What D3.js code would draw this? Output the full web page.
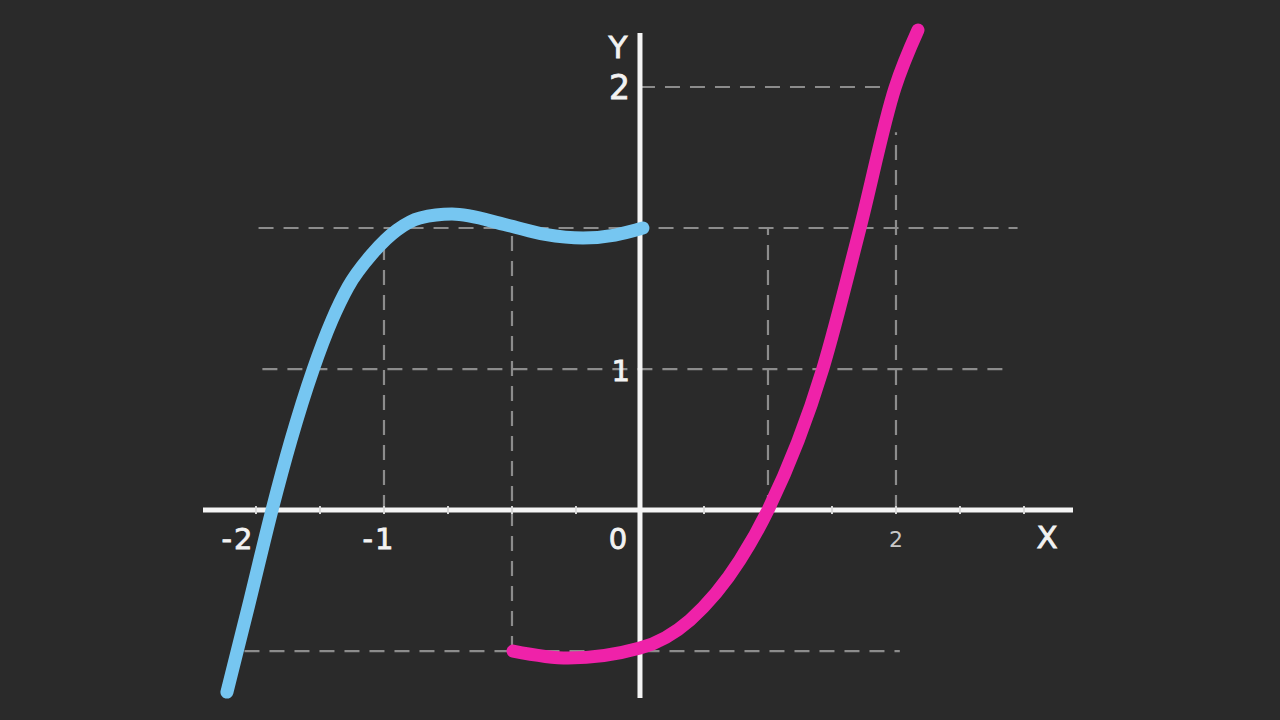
<!DOCTYPE html>
<html>
<head>
<meta charset="utf-8">
<script src="https://cdn.jsdelivr.net/npm/d3@7"></script>
<style>
  html, body { margin: 0; padding: 0; background: #2a2a2a; overflow: hidden; }
  svg { display: block; }
</style>
</head>
<body>
<svg></svg>
<script>
// grid units: one x unit = one dashed column, one y unit = one dashed row
const blueX = [-3.227, -3.047, -2.875, -2.727, -2.555, -2.406, -2.281, -2.086, -1.898, -1.719, -1.469, -1.039, -0.742, -0.445, -0.195, 0.023];
const blueY = [-1.291, -0.638, 0, 0.496, 0.993, 1.348, 1.582, 1.823, 1.986, 2.071, 2.099, 2.021, 1.955, 1.929, 1.95, 2.0];

const pinkX = [-0.992, -0.56, 0, 0.391, 0.781, 1.0, 1.43, 1.719, 1.992, 2.172];
const pinkY = [-1.0, -1.05, -0.979, -0.78, -0.355, 0, 1.007, 2.0, 2.993, 3.404];

// dashed guides: [level, from, to]
const hGuides = [[3, 0, 1.98], [2, -2.98, 2.95], [1, -2.95, 2.87], [-1, -3.09, 2.03]];
const vGuides = [[-2, 0, 1.86], [-1, -1, 2], [1, 0, 2], [2, 0, 2.68]];

const xTickValues = [-3, -2, 0, 2];
const xTickLabels = ['-2', '-1', '0', '2'];
const yTickValues = [3, 1];
const yTickLabels = ['2', '1'];

const svg = d3.select('svg').attr('width', 1280).attr('height', 720);

const x = d3.scaleLinear().domain([-3.414, 3.383]).range([203, 1073]);
const y = d3.scaleLinear().domain([-1.333, 3.383]).range([698, 33]);

const gridColor = '#8c8c8c';

svg.selectAll('line.hg').data(hGuides)
  .enter().append('line')
  .attr('class', 'hg')
  .attr('x1', d => x(d[1])).attr('x2', d => x(d[2]))
  .attr('y1', d => y(d[0])).attr('y2', d => y(d[0]))
  .attr('stroke', gridColor).attr('stroke-width', 2.2)
  .attr('stroke-dasharray', '15 10');

svg.selectAll('line.vg').data(vGuides)
  .enter().append('line')
  .attr('class', 'vg')
  .attr('x1', d => x(d[0])).attr('x2', d => x(d[0]))
  .attr('y1', d => y(d[1])).attr('y2', d => y(d[2]))
  .attr('stroke', gridColor).attr('stroke-width', 2.2)
  .attr('stroke-dasharray', '15 10');

// axes
svg.append('line')
  .attr('x1', x(-3.414)).attr('x2', x(3.383))
  .attr('y1', y(0)).attr('y2', y(0))
  .attr('stroke', '#f4f4f4').attr('stroke-width', 5);
svg.append('line')
  .attr('x1', x(0)).attr('x2', x(0))
  .attr('y1', y(3.383)).attr('y2', y(-1.333))
  .attr('stroke', '#f4f4f4').attr('stroke-width', 5);

// faint tick marks along the x axis every half unit
const minor = d3.range(-3, 3.01, 0.5).filter(v => v !== 0);
svg.selectAll('line.xt').data(minor)
  .enter().append('line')
  .attr('class', 'xt')
  .attr('x1', d => x(d)).attr('x2', d => x(d))
  .attr('y1', y(0) - 4).attr('y2', y(0) + 4)
  .attr('stroke', '#d8d8d8').attr('stroke-width', 2);

const line = d3.line()
  .x(d => x(d[0]))
  .y(d => y(d[1]))
  .curve(d3.curveMonotoneX);

svg.append('path')
  .attr('d', line(d3.zip(pinkX, pinkY)))
  .attr('fill', 'none')
  .attr('stroke', '#ef22a9')
  .attr('stroke-width', 13)
  .attr('stroke-linecap', 'round');

svg.append('path')
  .attr('d', line(d3.zip(blueX, blueY)))
  .attr('fill', 'none')
  .attr('stroke', '#76c6f1')
  .attr('stroke-width', 13)
  .attr('stroke-linecap', 'round');

// labels
const font = 'DejaVu Sans, Verdana, sans-serif';
const xLabelDx = [-18, -5, -22, 0];
svg.selectAll('text.xl').data(xTickValues)
  .enter().append('text')
  .attr('class', 'xl')
  .attr('x', (d, i) => x(d) + xLabelDx[i])
  .attr('y', (d, i) => i === 3 ? 547 : 549)
  .attr('text-anchor', 'middle')
  .attr('fill', (d, i) => i === 3 ? '#c8c8c8' : '#f2f2f2')
  .attr('stroke', (d, i) => i === 3 ? 'none' : '#f2f2f2')
  .attr('stroke-width', 0.8)
  .attr('font-family', font)
  .attr('font-size', (d, i) => i === 3 ? '22px' : '29px')
  .attr('letter-spacing', (d, i) => i < 2 ? '2px' : '0px')
  .text((d, i) => xTickLabels[i]);

svg.selectAll('text.yl').data(yTickValues)
  .enter().append('text')
  .attr('class', 'yl')
  .attr('x', x(0) - 10)
  .attr('y', d => y(d) + 12)
  .attr('text-anchor', 'end')
  .attr('fill', '#f2f2f2')
  .attr('stroke', '#f2f2f2')
  .attr('stroke-width', 0.8)
  .attr('font-family', font)
  .attr('font-size', (d, i) => i === 0 ? '33px' : '29px')
  .text((d, i) => yTickLabels[i]);

svg.append('text')
  .attr('x', 1047).attr('y', 548)
  .attr('text-anchor', 'middle')
  .attr('fill', '#f2f2f2')
  .attr('stroke', '#f2f2f2')
  .attr('stroke-width', 0.8)
  .attr('font-family', font)
  .attr('font-size', '31px')
  .text('X');

svg.append('text')
  .attr('x', 618).attr('y', 58)
  .attr('text-anchor', 'middle')
  .attr('fill', '#f2f2f2')
  .attr('stroke', '#f2f2f2')
  .attr('stroke-width', 0.8)
  .attr('font-family', font)
  .attr('font-size', '31px')
  .text('Y');
</script>
</body>
</html>
